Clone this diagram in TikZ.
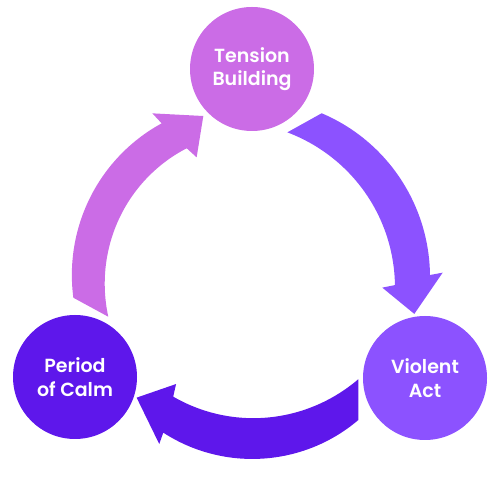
\documentclass[tikz,border=0pt]{standalone}
\usepackage{fontspec}
\newfontfamily\lbl{Poppins SemiBold}
\definecolor{orchid}{HTML}{CB6CE6}
\definecolor{violet}{HTML}{8C52FF}
\definecolor{indigo}{HTML}{5E17EB}
\begin{document}
\begin{tikzpicture}[x=1pt,y=1pt,
  stage/.style={circle, minimum size=124pt, inner sep=0pt, text=white, align=center,
    font=\lbl\fontsize{19}{23.5}\selectfont},
  edge/.style={variable=\t, samples=60, smooth}]
\useasboundingbox (0,0) rectangle (500,500);
\begin{scope}[shift={(251,225)}]
  % Tension Building -> Violent Act
  \fill[violet]
    plot[edge, domain=66.4:0] ({\t}:{176.5+2.5*((66.4-(\t))/66.4)})
    -- (0.7:191.7) -- (-13.4:167.9) -- (-5.5:131.9)
    -- plot[edge, domain=-4:75.7] ({\t}:{144.3+2.9*(((\t)+4)/79.7)-20*(((\t)+4)/79.7)*(1-((\t)+4)/79.7)})
    -- cycle;
  % Violent Act -> Period of Calm
  \fill[indigo]
    plot[edge, domain=-53.5:-119.1] ({\t}:{180.4+14.4*((-53.5-(\t))/65.6)*(1-(-53.5-(\t))/65.6)})
    -- (-118.5:192.3) -- (-133:167.7) -- (-124.5:132.3)
    -- plot[edge, domain=-122.6:-44.2] ({\t}:{144.4+5.2*(((\t)+122.6)/78.4)-14*(((\t)+122.6)/78.4)*(1-((\t)+122.6)/78.4)})
    -- cycle;
  % Period of Calm -> Tension Building
  \fill[orchid]
    plot[edge, domain=187.3:120.5] ({\t}:{179.1-3.1*((187.3-(\t))/66.8)+4*((187.3-(\t))/66.8)*(1-(187.3-(\t))/66.8)})
    -- (121.4:189.4) -- (106.7:166) -- (114.8:129.6)
    -- plot[edge, domain=116.9:196.3] ({\t}:{142.1+6.6*(((\t)-116.9)/79.4)-8*(((\t)-116.9)/79.4)*(1-((\t)-116.9)/79.4)})
    -- cycle;
\end{scope}
\node[stage, fill=orchid] (tension) at (252,431) {Tension\\Building};
\node[stage, fill=violet] (violent) at (425,122) {Violent\\Act};
\node[stage, fill=indigo] (calm) at (75,123) {Period\\of Calm};
\end{tikzpicture}
\end{document}
